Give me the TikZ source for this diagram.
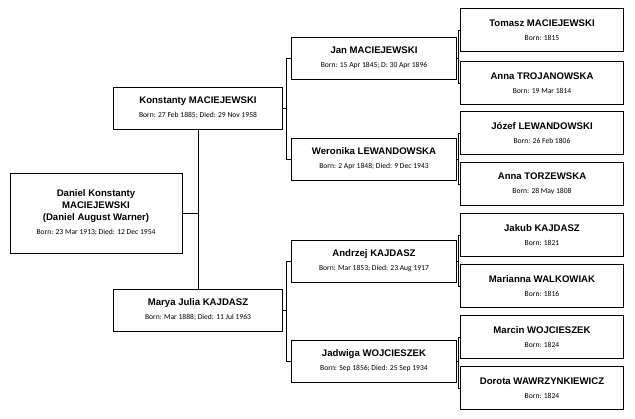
\documentclass[tikz,border=0pt]{standalone}
\usepackage{fontspec}
\setmainfont{Liberation Sans}
\newfontfamily\datefont{Carlito}
\usetikzlibrary{positioning}

\begin{document}
\begin{tikzpicture}
	[x=1pt, y=-1pt,
		person/.style	={rectangle
									, draw
									, line width=0.8pt
									, align=center
									, inner sep=2pt
									, font=\bfseries\fontsize{9.6}{12}\selectfont
									},
		gen1/.style		={person, minimum width=169pt, minimum height=42pt},
		gen2/.style		={person, minimum width=165pt, minimum height=42pt},
		gen3/.style		={person, minimum width=163pt, minimum height=43pt},
		root/.style		={person, minimum width=172pt, minimum height=80pt},
		line/.style		={draw, line width=0.8pt}
	]
\newcommand{\born}[1]{\\[2pt]{\datefont\mdseries\fontsize{7.6}{9}\selectfont #1}}
\useasboundingbox (0,0) rectangle (635,418);

% root
\node [root] (daniel) at (96,213) {Daniel Konstanty\\MACIEJEWSKI\\(Daniel August Warner)\born{Born: 23 Mar 1913; Died: 12 Dec 1954}};
% parents
\node [gen1] (konstanty) at (198,108) {Konstanty MACIEJEWSKI\born{Born: 27 Feb 1885; Died: 29 Nov 1958}};
\node [gen1] (marya) at (198,310) {Marya Julia KAJDASZ\born{Born: Mar 1888; Died: 11 Jul 1963}};
% grandparents
\node [gen2] (jan) at (374,58) {Jan MACIEJEWSKI\born{Born: 15 Apr 1845; D: 30 Apr 1896}};
\node [gen2] (weronika) at (374,159) {Weronika LEWANDOWSKA\born{Born: 2 Apr 1848; Died: 9 Dec 1943}};
\node [gen2] (andrzej) at (374,261) {Andrzej KAJDASZ\born{Born: Mar 1853; Died: 23 Aug 1917}};
\node [gen2] (jadwiga) at (374,361) {Jadwiga WOJCIESZEK\born{Born: Sep 1856; Died: 25 Sep 1934}};
% great-grandparents
\node [gen3] (tomasz) at (542,30) {Tomasz MACIEJEWSKI\born{Born: 1815}};
\node [gen3] (annatr) at (542,83) {Anna TROJANOWSKA\born{Born: 19 Mar 1814}};
\node [gen3] (jozef) at (542,133) {Józef LEWANDOWSKI\born{Born: 26 Feb 1806}};
\node [gen3] (annato) at (542,184) {Anna TORZEWSKA\born{Born: 28 May 1808}};
\node [gen3] (jakub) at (542,235) {Jakub KAJDASZ\born{Born: 1821}};
\node [gen3] (marianna) at (542,286) {Marianna WALKOWIAK\born{Born: 1816}};
\node [gen3] (marcin) at (542,337) {Marcin WOJCIESZEK\born{Born: 1824}};
\node [gen3] (dorota) at (542,388) {Dorota WAWRZYNKIEWICZ\born{Born: 1824}};

\begin{scope}[every path/.style=line]
	\path	(konstanty.south)	-- (marya.north);
	\path	(daniel.east)		-- (daniel.east -| konstanty.south);
	\path	(jan.west)			-- ++(-5,0) |- (weronika.west);
	\path	(konstanty.east)	-- ++(4,0);
	\path	(andrzej.west)		-- ++(-5,0) |- (jadwiga.west);
	\path	(marya.east)		-- ++(4,0);
	\path	(tomasz.west)		-- ++(-2,0) |- (annatr.west);
	\path	(jan.east)			-- ++(2,0);
	\path	(jozef.west)		-- ++(-2,0) |- (annato.west);
	\path	(weronika.east)	-- ++(2,0);
	\path	(jakub.west)		-- ++(-2,0) |- (marianna.west);
	\path	(andrzej.east)		-- ++(2,0);
	\path	(marcin.west)		-- ++(-2,0) |- (dorota.west);
	\path	(jadwiga.east)		-- ++(2,0);
\end{scope}
\end{tikzpicture}
\end{document}
